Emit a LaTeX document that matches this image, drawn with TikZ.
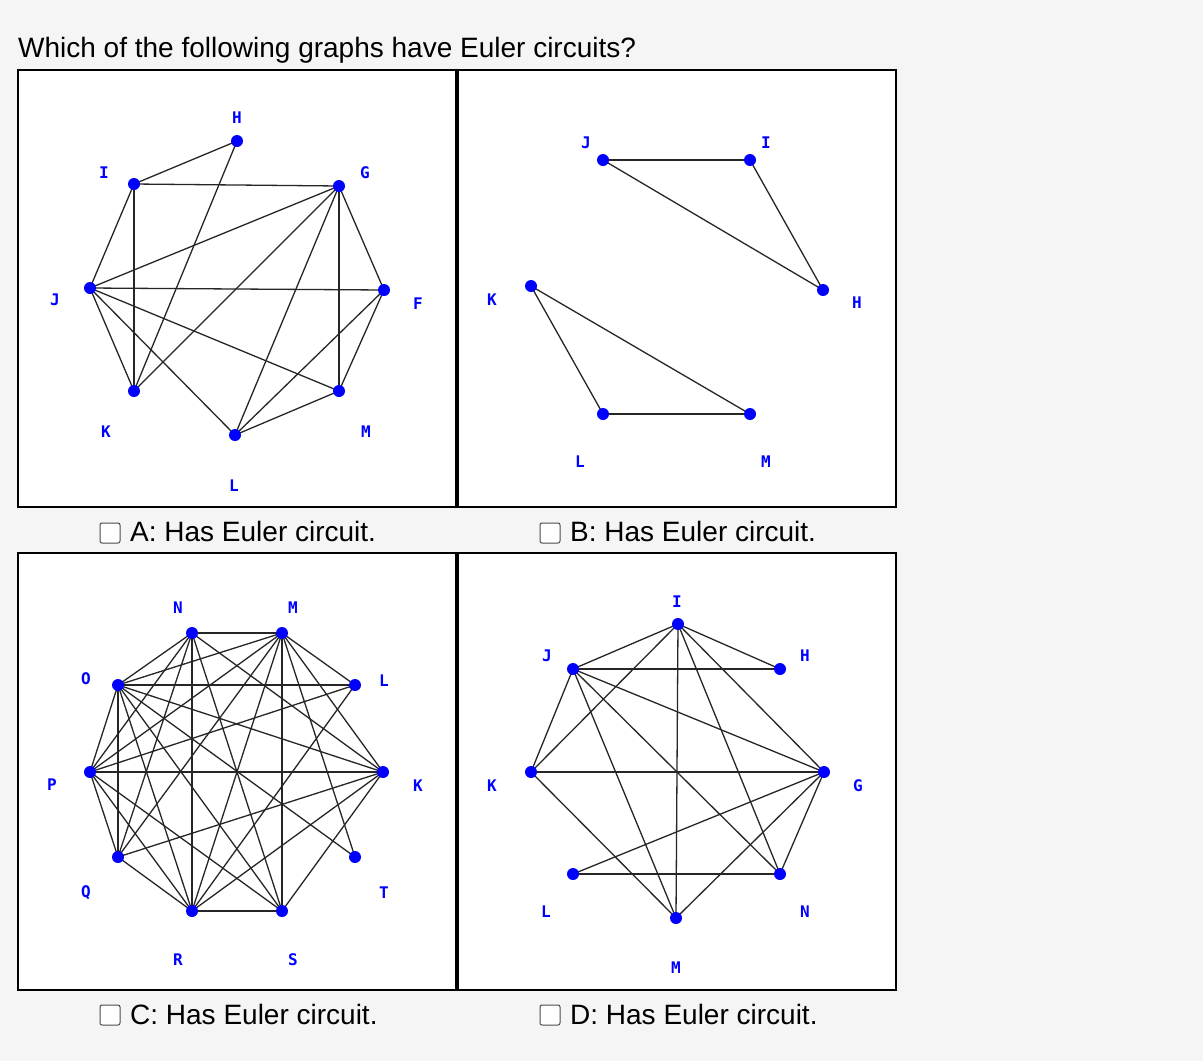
\documentclass[tikz,border=0pt]{standalone}
\usepackage{fontspec}
\setmainfont{Liberation Sans}
\newfontfamily\lblfont{DejaVu Sans Mono}
\begin{document}
\begin{tikzpicture}[x=1pt,y=-1pt,
  vtx/.style={circle,fill=blue,inner sep=0pt,minimum size=12pt},
  lbl/.style={text=blue,font=\lblfont\bfseries\fontsize{16}{16}\selectfont,inner sep=0pt},
  edge/.style={draw=black!85,line width=1.3pt},
  panel/.style={draw=black,line width=1.5pt,fill=white},
  cbox/.style={draw=black!70,line width=1pt,fill=white,rounded corners=2pt,minimum size=20pt,inner sep=0pt},
  captext/.style={font=\fontsize{28}{28}\selectfont,anchor=west,inner sep=0pt}]
\fill[black!4] (0,0) rectangle (1203,1061);
\useasboundingbox (0,0) rectangle (1203,1061);
\node[anchor=west,inner sep=0pt,font=\fontsize{28}{28}\selectfont] (title) at (18,50) {Which of the following graphs have Euler circuits?};
\draw[panel] (18,70) rectangle (456,507);
\draw[panel] (458,70) rectangle (896,507);
\draw[panel] (18,553) rectangle (456,990);
\draw[panel] (458,553) rectangle (896,990);
% checkboxes
\node[cbox] (cba) at (110,533) {}; \node[captext] (ta) at (130,531) {A: Has Euler circuit.};
\node[cbox] (cbb) at (550,533) {}; \node[captext] (tb) at (570,531) {B: Has Euler circuit.};
\node[cbox] (cbc) at (110,1015) {}; \node[captext] (tc) at (130,1014) {C: Has Euler circuit.};
\node[cbox] (cbd) at (550,1015) {}; \node[captext] (td) at (570,1014) {D: Has Euler circuit.};
% ---------- Graph A
\coordinate (aH) at (237,141); \coordinate (aI) at (134,184); \coordinate (aG) at (339,186);
\coordinate (aJ) at (90,288); \coordinate (aF) at (384,290); \coordinate (aK) at (134,391);
\coordinate (aM) at (339,391); \coordinate (aL) at (235,435);
\foreach \u/\v in {H/I,H/K,I/G,I/J,I/K,J/G,J/F,J/K,J/L,J/M,G/K,G/L,G/M,G/F,F/M,F/L,M/L}
  \draw[edge] (a\u) -- (a\v);
\foreach \n in {H,I,G,J,F,K,M,L} \node[vtx] (na\n) at (a\n) {};
\node[lbl] (laH) at (237,118) {H}; \node[lbl] (laI) at (104,173) {I};
\node[lbl] (laG) at (365,173) {G}; \node[lbl] (laJ) at (55,300) {J};
\node[lbl] (laF) at (418,304) {F}; \node[lbl] (laK) at (106,432) {K};
\node[lbl] (laM) at (366,432) {M}; \node[lbl] (laL) at (234,486) {L};
% ---------- Graph B
\coordinate (bJ) at (603,160); \coordinate (bI) at (750,160); \coordinate (bH) at (823,290);
\coordinate (bK) at (531,286); \coordinate (bL) at (603,414); \coordinate (bM) at (750,414);
\foreach \u/\v in {J/I,J/H,I/H,K/L,K/M,L/M} \draw[edge] (b\u) -- (b\v);
\foreach \n in {J,I,H,K,L,M} \node[vtx] (nb\n) at (b\n) {};
\node[lbl] (lbJ) at (586,143) {J}; \node[lbl] (lbI) at (766,143) {I};
\node[lbl] (lbH) at (857,303) {H}; \node[lbl] (lbK) at (492,300) {K};
\node[lbl] (lbL) at (580,462) {L}; \node[lbl] (lbM) at (766,462) {M};
% ---------- Graph C
\coordinate (cN) at (192,633); \coordinate (cM) at (282,633); \coordinate (cO) at (118,685);
\coordinate (cL) at (355,685); \coordinate (cP) at (90,772); \coordinate (cK) at (383,772);
\coordinate (cQ) at (118,857); \coordinate (cT) at (355,857); \coordinate (cR) at (192,911);
\coordinate (cS) at (282,911);
\foreach \u/\v in {N/M,N/O,N/P,N/Q,N/R,N/S,N/K,
  M/O,M/P,M/Q,M/R,M/S,M/L,M/K,M/T,
  O/L,O/P,O/Q,O/K,O/R,O/S,O/T,
  L/P,L/R,
  P/K,P/Q,P/R,P/S,
  K/Q,K/R,K/S,
  Q/R,R/S}
  \draw[edge] (c\u) -- (c\v);
\foreach \n in {N,M,O,L,P,K,Q,T,R,S} \node[vtx] (nc\n) at (c\n) {};
\node[lbl] (lcN) at (178,608) {N}; \node[lbl] (lcM) at (293,608) {M};
\node[lbl] (lcO) at (86,679) {O}; \node[lbl] (lcL) at (384,681) {L};
\node[lbl] (lcP) at (52,785) {P}; \node[lbl] (lcK) at (418,786) {K};
\node[lbl] (lcQ) at (86,893) {Q}; \node[lbl] (lcT) at (384,893) {T};
\node[lbl] (lcR) at (178,960) {R}; \node[lbl] (lcS) at (293,960) {S};
% ---------- Graph D
\coordinate (dI) at (678,624); \coordinate (dJ) at (573,669); \coordinate (dH) at (780,669);
\coordinate (dK) at (531,772); \coordinate (dG) at (824,772); \coordinate (dL) at (573,874);
\coordinate (dN) at (780,874); \coordinate (dM) at (676,918);
\foreach \u/\v in {I/J,I/H,I/K,I/M,I/N,I/G,J/H,J/K,J/G,J/N,J/M,K/G,K/M,G/L,G/N,G/M,L/N}
  \draw[edge] (d\u) -- (d\v);
\foreach \n in {I,J,H,K,G,L,N,M} \node[vtx] (nd\n) at (d\n) {};
\node[lbl] (ldI) at (677,602) {I}; \node[lbl] (ldJ) at (547,656) {J};
\node[lbl] (ldH) at (805,656) {H}; \node[lbl] (ldK) at (492,786) {K};
\node[lbl] (ldG) at (858,786) {G}; \node[lbl] (ldL) at (546,912) {L};
\node[lbl] (ldN) at (805,912) {N}; \node[lbl] (ldM) at (676,968) {M};
\end{tikzpicture}
\end{document}
